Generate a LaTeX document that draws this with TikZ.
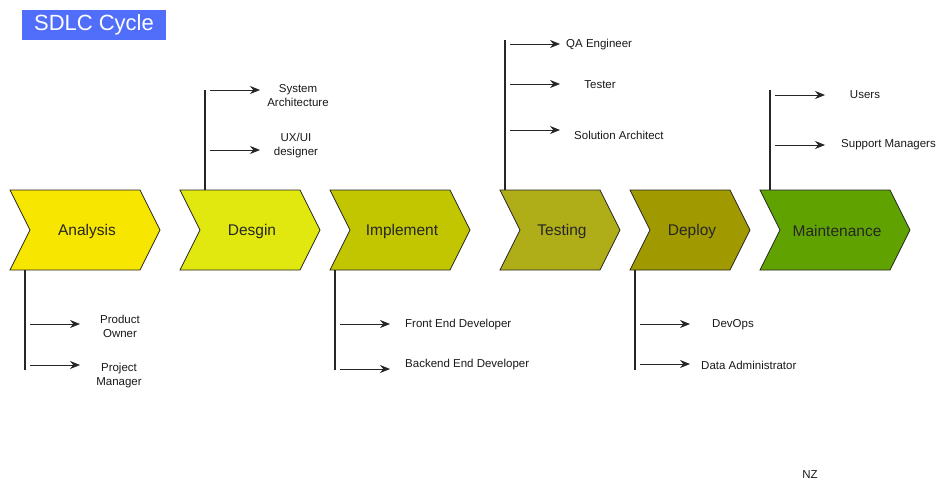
\documentclass[tikz,border=0pt]{standalone}
\usepackage{fontspec}
\setmainfont{Liberation Sans}
\usetikzlibrary{arrows.meta}
\definecolor{ca}{RGB}{247,230,0}
\definecolor{cb}{RGB}{224,232,16}
\definecolor{cc}{RGB}{194,198,0}
\definecolor{cd}{RGB}{176,174,24}
\definecolor{ce}{RGB}{160,154,0}
\definecolor{cf}{RGB}{96,163,0}
\definecolor{ctitle}{RGB}{80,110,250}
\begin{document}
\begin{tikzpicture}[x=1pt,y=-1pt,
  chev/.style={draw=black!85,line width=0.8pt},
  ctext/.style={font=\fontsize{15.5}{17}\selectfont,text=black!85},
  bar/.style={line width=1.5pt,black!85},
  arr/.style={line width=0.9pt,-{Stealth[length=10pt,width=8pt]},black!85},
  lab/.style={font=\fontsize{11.5}{14}\selectfont,align=center,text=black!90,inner sep=0pt},
  labl/.style={lab,anchor=west}]
\useasboundingbox (0,0) rectangle (951,491);
\fill[white] (0,0) rectangle (951,491);
\node[fill=ctitle,text=white,font=\fontsize{22}{24}\selectfont,minimum width=144pt,minimum height=30pt,inner sep=0pt] (title) at (94,25) {SDLC Cycle};
\newcommand\mychev[5]{%
  \filldraw[chev,fill=#3] (#1,190) -- (#2-20,190) -- (#2,230) -- (#2-20,270) -- (#1,270) -- (#1+20,230) -- cycle;
  \node[ctext] (#4) at ({(#1+#2)/2+2},231) {#5};}
\mychev{10}{160}{ca}{c1}{Analysis}
\mychev{180}{320}{cb}{c2}{Desgin}
\mychev{330}{470}{cc}{c3}{Implement}
\mychev{500}{620}{cd}{c4}{Testing}
\mychev{630}{750}{ce}{c5}{Deploy}
\mychev{760}{910}{cf}{c6}{Maintenance}
\draw[bar] (25,270) -- (25,370);
\draw[bar] (205,90) -- (205,190);
\draw[bar] (335,270) -- (335,370);
\draw[bar] (505,40) -- (505,190);
\draw[bar] (635,270) -- (635,370);
\draw[bar] (770,90) -- (770,190);
\node[lab] (l1) at (120,326) {Product\\Owner};
\node[lab] (l2) at (119,376) {Project\\Manager};
\node[lab] (l3) at (298,96) {System\\Architecture};
\node[lab] (l4) at (296,146) {UX/UI\\designer};
\node[labl] (l5) at (405,325) {Front End Developer};
\node[labl] (l6) at (405,365) {Backend End Developer};
\node[labl] (l7) at (566,45) {QA Engineer};
\node[lab] (l8) at (600,85) {Tester};
\node[labl] (l9) at (574,135) {Solution Architect};
\node[lab] (l10) at (733,325) {DevOps};
\node[labl] (l11) at (701,365) {Data Administrator};
\node[lab] (l12) at (865,95) {Users};
\node[labl] (l13) at (841,145) {Support Managers};
\node[lab] (nz) at (810,475) {NZ};
\foreach \x/\y in {30/324,30/365,210/90,210/150,340/324,340/369,510/44,510/84,510/130,640/324,640/364,775/95,775/145}{
  \coordinate (s) at (\x,\y); \coordinate (e) at (\x+50,\y);
  \draw[arr] (s) -- (e);}
\end{tikzpicture}
\end{document}
